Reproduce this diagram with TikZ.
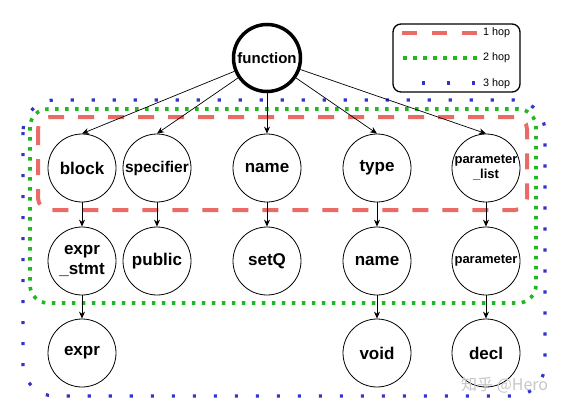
\documentclass[tikz,border=0pt]{standalone}
\usepackage{fontspec}
\setmainfont{Liberation Sans}
\newfontfamily\cjkfont{Noto Sans CJK SC}
\usetikzlibrary{arrows.meta}
\definecolor{hopred}{HTML}{EA6B66}
\definecolor{hopgreen}{HTML}{1FB81F}
\definecolor{hopblue}{HTML}{3333CC}
\tikzset{
  tnode/.style={circle,draw=black,line width=0.8pt,fill=white,minimum size=68pt,inner sep=0pt,
    font=\fontsize{17}{20}\selectfont\bfseries,align=center},
  conn/.style={-{Stealth[length=7pt,width=6pt]},line width=0.7pt,draw=black},
  hopone/.style={draw=hopred,line width=4pt,dash pattern=on 16pt off 14pt,rounded corners=12pt},
  hoptwo/.style={draw=hopgreen,line width=3.6pt,dash pattern=on 3.6pt off 6.4pt,rounded corners=18pt},
  hopthree/.style={draw=hopblue,line width=3.2pt,dash pattern=on 3.2pt off 17.8pt,rounded corners=32pt},
  legtext/.style={anchor=west,inner sep=0pt,font=\fontsize{10.8}{13}\selectfont}
}
\begin{document}
\begin{tikzpicture}[x=1pt,y=-1pt]
\useasboundingbox (0,0) rectangle (569,409);
% hop regions
\draw[hopthree] (23,100) rectangle (545,396);
\draw[hoptwo] (30,109) rectangle (536,303);
\draw[hopone] (38,117) rectangle (527,210);
% legend
\draw[line width=1.3pt,rounded corners=8pt] (393,24) rectangle (520,92);
\coordinate (l1a) at (402,33); \coordinate (l1b) at (477,33);
\coordinate (l2a) at (403,58); \coordinate (l2b) at (480,58);
\coordinate (l3a) at (421.5,83); \coordinate (l3b) at (476,83);
\draw[draw=hopred,line width=4pt,dash pattern=on 15pt off 15pt] (l1a) -- (l1b);
\draw[draw=hopgreen,line width=3.6pt,dash pattern=on 3.6pt off 6.4pt] (l2a) -- (l2b);
\draw[draw=hopblue,line width=3.2pt,dash pattern=on 3.2pt off 21.8pt] (l3a) -- (l3b);
\node[legtext] (t1) at (483,33) {1 hop};
\node[legtext] (t2) at (483,58) {2 hop};
\node[legtext] (t3) at (483,84) {3 hop};
% nodes
\node[tnode,line width=3.5pt,minimum size=67pt,font=\fontsize{15}{18}\selectfont\bfseries] (function) at (267,58) {function};
\node[tnode] (block) at (82,168) {block};
\node[tnode,font=\fontsize{15.5}{18}\selectfont\bfseries] (specifier) at (157,168) {specifier};
\node[tnode] (name) at (267,168) {name};
\node[tnode] (type) at (377,168) {type};
\node[tnode,font=\fontsize{13}{15}\selectfont\bfseries] (plist) at (486,168) {parameter\\\_list};
\node[tnode] (exprstmt) at (82,261) {expr\\\_stmt};
\node[tnode] (public) at (157,261) {public};
\node[tnode] (setq) at (267,261) {setQ};
\node[tnode] (name2) at (377,261) {name};
\node[tnode,font=\fontsize{13}{15}\selectfont\bfseries] (param) at (486,261) {parameter};
\node[tnode] (expr) at (82,353) {expr};
\node[tnode] (void) at (377,353) {void};
\node[tnode] (decl) at (486,353) {decl};
% connectors
\foreach \t in {block,specifier,name,type,plist}
  \draw[conn] (function) -- (\t.north);
\draw[conn] (block) -- (exprstmt);
\draw[conn] (specifier) -- (public);
\draw[conn] (name) -- (setq);
\draw[conn] (type) -- (name2);
\draw[conn] (plist) -- (param);
\draw[conn] (exprstmt) -- (expr);
\draw[conn] (name2) -- (void);
\draw[conn] (param) -- (decl);
% watermark
\node[anchor=west,inner sep=0pt,text=gray!45,font=\cjkfont\fontsize{16}{18}\selectfont] (wm) at (461,385) {知乎 @Hero};
\end{tikzpicture}
\end{document}
